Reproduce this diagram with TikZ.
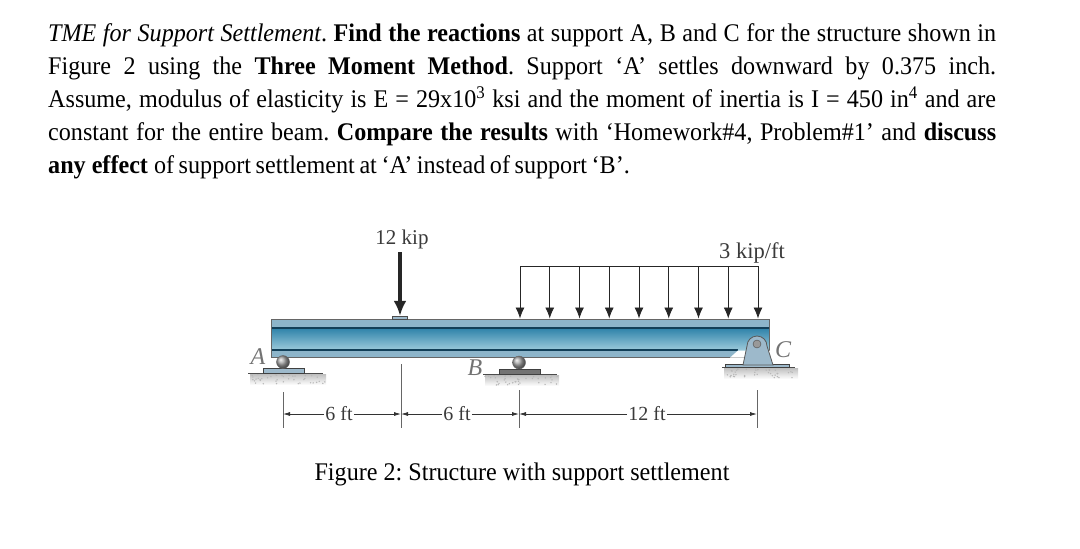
\documentclass[tikz,border=0pt]{standalone}
\usepackage{fontspec}
\setmainfont[FakeStretch=0.95]{Liberation Serif}
\newfontfamily\figfont{Liberation Serif}
\usetikzlibrary{arrows.meta,shadings}
\definecolor{flangeblue}{HTML}{8DB5CA}
\definecolor{webtop}{HTML}{2E82A9}
\definecolor{webbot}{HTML}{9CCADB}
\definecolor{steeldark}{HTML}{123F58}
\definecolor{pinblue}{HTML}{9DB9CB}
\definecolor{inkgray}{HTML}{3A3A3A}
\tikzset{
  figlabel/.style={font=\figfont\fontsize{20}{22}\selectfont, text=inkgray, inner sep=1pt},
  suplabel/.style={font=\figfont\itshape\fontsize{24}{26}\selectfont, text=black!55, inner sep=1pt},
  udl/.style={draw=black!85, line width=0.8pt, -{Latex[length=11pt,width=9pt]}},
  dimline/.style={draw=black!80, line width=0.8pt, -{Latex[length=7pt,width=4pt]}},
  dimtick/.style={draw=black!60, line width=1pt},
  groundline/.style={draw=black!70, line width=0.9pt},
  plate/.style={draw=black!75, fill=pinblue!70!black, line width=0.7pt},
  roller/.style={circle, draw=black!60, inner sep=0pt, minimum size=13pt, ball color=black!35}
}
\begin{document}
\frenchspacing
\begin{tikzpicture}[x=1pt,y=-1pt]
    \useasboundingbox (0,0) rectangle (1080,549);

    % problem statement
    \node[anchor=north west, inner sep=0pt, text width=948pt, align=justify, font=\fontsize{25.4}{33}\selectfont] (statement) at (48,23.5)
    {\textit{TME for Support Settlement}. \textbf{Find the reactions} at support A, B and C for the structure shown in\linebreak
    Figure 2 using the \textbf{Three Moment Method}. Support ‘A’ settles downward by 0.375 inch.\linebreak
    Assume, modulus of elasticity is E = 29x10\textsuperscript{3} ksi and the moment of inertia is I = 450 in\textsuperscript{4} and are\linebreak
    constant for the entire beam. \textbf{Compare the results} with ‘Homework\#4, Problem\#1’ and \textbf{discuss}\linebreak
    \textbf{any effect} {\spaceskip=4.6pt\relax of support settlement at ‘A’ instead of support ‘B’.}};

    % ground
    \pgfmathsetseed{7}
    \foreach \gx/\gy/\gw in {250/374/76, 485/375/74, 724/368/74}{
      \shade[top color=black!25, bottom color=white] (\gx,\gy) rectangle ++(\gw,11);
      \foreach \i in {1,...,40}
        \fill[black!28] ({\gx+rnd*\gw},{\gy+rnd*10}) circle (0.8);
    }

    % beam
    \fill[flangeblue] (271,319) rectangle (769,357);
    \shade[top color=webtop, bottom color=webbot] (271,328) rectangle (769,350);
    \draw[steeldark, line width=1.5pt] (271,328) -- (769,328);
    \draw[steeldark, line width=1.2pt] (271,350) -- (738,350);
    \draw[black!60, line width=0.6pt] (271,319) rectangle (769,357);
    \fill[white] (738,350.5) -- (730,357.6) -- (770,357.6) -- (770,350.5) -- cycle;
    \draw[black!60, line width=0.6pt] (769,319) -- (769,350);

    % supports
    \draw[groundline] (248,373) -- (323,373);
    \draw[plate, fill=pinblue] (263,368) rectangle (304,373);
    \node[roller] (rollerA) at (283,362) {};
    \node[suplabel] (labelA) at (258,357) {A};

    \draw[groundline] (483,374) -- (557,374);
    \draw[plate, fill=black!55] (499,369) rectangle (540,374);
    \node[roller] (rollerB) at (519,362.5) {};
    \node[suplabel] (labelB) at (475,368) {B};

    \draw[groundline] (722,367) -- (795,367);
    \draw[plate, fill=pinblue] (725,364.5) rectangle (789,367);
    \draw[black!65, fill=pinblue, line width=0.8pt] (743,365) -- (747,346) arc (180:360:10) -- (773,365) -- cycle;
    \node[circle, draw=black!70, fill=black!40, inner sep=0pt, minimum size=8pt] (pinC) at (757,344) {};
    \node[suplabel] (labelC) at (783,350) {C};

    % 12 kip load
    \node[figlabel, font=\figfont\fontsize{21}{23}\selectfont] (loadP) at (402,239) {12 kip};
    \coordinate (loadtop) at (400,252);
    \node[draw=black!70, fill=pinblue, inner sep=0pt, minimum width=15pt, minimum height=3pt] (pad) at (400,317.5) {};
    \draw[line width=4pt, black!85, -{Latex[length=15pt,width=13pt]}] (loadtop) -- (pad.north);

    % distributed load
    \node[figlabel, font=\figfont\fontsize{22.5}{24}\selectfont] (loadW) at (752,253) {3 kip/ft};
    \coordinate (udlstart) at (520,266);
    \coordinate (udlend) at (758,266);
    \draw[black!85, line width=0.8pt] (udlstart) -- (udlend);
    \foreach \i in {0,...,8}{
      \coordinate (udltop\i) at ({520+29.75*\i},266);
      \coordinate (udlbot\i) at ({520+29.75*\i},318.5);
      \draw[udl] (udltop\i) -- (udlbot\i);
    }

    % dimensions
    \coordinate (tickAtop) at (283,392);
    \coordinate (tickAbot) at (283,428);
    \coordinate (tickPtop) at (401,364);
    \coordinate (tickPbot) at (401,428);
    \coordinate (tickBtop) at (519,390);
    \coordinate (tickBbot) at (519,428);
    \coordinate (tickCtop) at (757,390);
    \coordinate (tickCbot) at (757,428);
    \coordinate (dimA) at (283,414);
    \coordinate (dimP) at (401,414);
    \coordinate (dimB) at (519,414);
    \coordinate (dimC) at (757,414);
    \draw[dimtick] (tickAtop) -- (tickAbot);
    \draw[dimtick] (tickPtop) -- (tickPbot);
    \draw[dimtick] (tickBtop) -- (tickBbot);
    \draw[dimtick] (tickCtop) -- (tickCbot);
    \node[figlabel] (dimAP) at (339,414) {6 ft};
    \node[figlabel] (dimPB) at (457,414) {6 ft};
    \node[figlabel] (dimBC) at (647,414) {12 ft};
    \draw[dimline] (dimAP) -- (dimA);
    \draw[dimline] (dimAP) -- (dimP);
    \draw[dimline] (dimPB) -- (dimP);
    \draw[dimline] (dimPB) -- (dimB);
    \draw[dimline] (dimBC) -- (dimB);
    \draw[dimline] (dimBC) -- (dimC);

    % caption
    \node[inner sep=0pt, font=\fontsize{25.4}{30}\selectfont] (caption) at (522,474) {Figure 2: Structure with support settlement};

\end{tikzpicture}
\end{document}
